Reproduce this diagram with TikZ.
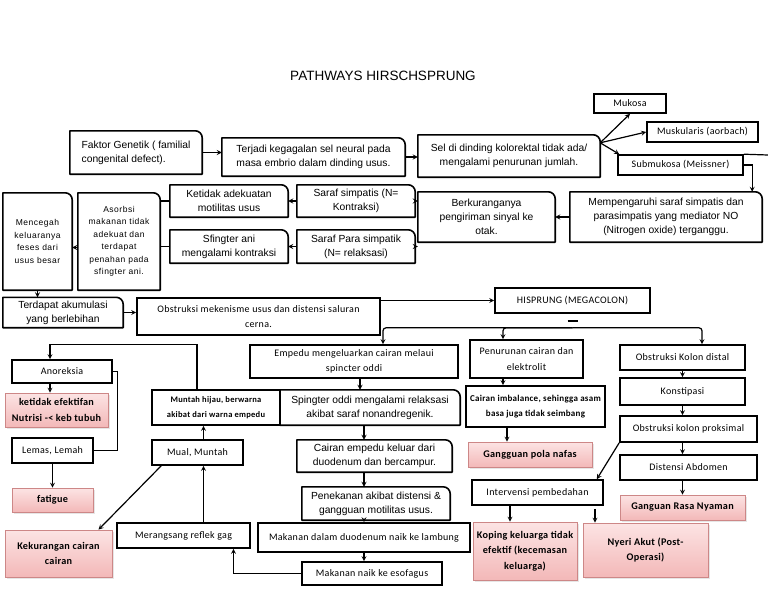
\documentclass[tikz,border=0pt]{standalone}
\usepackage{fontspec}
\setmainfont{Liberation Sans}
\newfontfamily\calfont[LetterSpace=3]{Carlito}
\newfontfamily\spfont[LetterSpace=6]{Liberation Sans}
\usetikzlibrary{shadows}
\definecolor{pinktop}{RGB}{252,228,228}
\definecolor{pinkbot}{RGB}{243,184,184}
\definecolor{pinkline}{RGB}{205,135,135}
\tikzset{
  boxwh/.style 2 args={minimum width=#1pt, minimum height=#2pt},
  rbox/.style={inner sep=0pt, align=center, font=\fontsize{10.3}{14}\selectfont},
  rline/.style={line width=1.6pt, line join=round},
  sbox/.style={draw, line width=1.6pt, inner sep=0pt, align=center, font=\calfont\fontsize{10}{15.5}\selectfont},
  pbox/.style={draw=pinkline, line width=0.7pt, top color=pinktop, bottom color=pinkbot,
    drop shadow={opacity=0.2, shadow xshift=1.5pt, shadow yshift=-1.5pt},
    inner sep=0pt, align=center, font=\calfont\bfseries\fontsize{10.2}{15.5}\selectfont},
  arr/.style={-stealth, line width=1.2pt},
  link/.style={line width=1.2pt},
}
\begin{document}
\begin{tikzpicture}[x=1pt,y=1pt]
\useasboundingbox (0,0) rectangle (768,-594);
\node[font=\fontsize{13.5}{16}\selectfont] (title) at (383,-76) {PATHWAYS HIRSCHSPRUNG};

% top row
\node[rbox, boxwh={132}{43}, align=left] (faktor) at (136,-152.5) {Faktor Genetik ( familial\\congenital defect).};
\node[rbox, boxwh={183}{38}] (terjadi) at (313.5,-157) {Terjadi kegagalan sel neural pada\\masa embrio dalam dinding usus.};
\node[rbox, boxwh={182}{42}] (seldi) at (509,-156) {Sel di dinding kolorektal tidak ada/\\mengalami penurunan jumlah.};
\node[sbox, boxwh={72}{19}] (mukosa) at (630,-103.5) {Mukosa};
\node[sbox, boxwh={111}{20}] (muskularis) at (702.5,-132) {Muskularis (aorbach)};
\node[sbox, boxwh={125}{20}] (submukosa) at (680.5,-165) {Submukosa (Meissner)};

% second row
\node[rbox, boxwh={192}{50}] (mempengaruhi) at (666,-217) {Mempengaruhi saraf simpatis dan\\parasimpatis yang mediator NO\\(Nitrogen oxide) terganggu.};
\node[rbox, boxwh={137}{50}] (berkurang) at (486.5,-217) {Berkuranganya\\pengiriman sinyal ke\\otak.};
\node[rbox, boxwh={118}{32}] (simpatis) at (356,-201) {Saraf simpatis (N=\\Kontraksi)};
\node[rbox, boxwh={118}{33}] (parasimpatis) at (356,-246.5) {Saraf Para simpatik\\(N= relaksasi)};
\node[rbox, boxwh={118}{32}] (ketidak) at (229,-201) {Ketidak adekuatan\\motilitas usus};
\node[rbox, boxwh={118}{33}] (sfingter) at (229,-246.5) {Sfingter ani\\mengalami kontraksi};
\node[rbox, boxwh={82}{97}, font=\spfont\fontsize{8.5}{12.5}\selectfont] (asorbsi) at (119,-241.5) {Asorbsi\\makanan tidak\\adekuat dan\\terdapat\\penahan pada\\sfingter ani.};
\node[rbox, boxwh={69}{97}, font=\spfont\fontsize{8.5}{12.5}\selectfont] (mencegah) at (37.5,-241.5) {Mencegah\\keluaranya\\feses dari\\usus besar};

% third row
\node[rbox, boxwh={120}{30}] (terdapat) at (63,-312.5) {Terdapat akumulasi\\yang berlebihan};
\node[sbox, boxwh={243}{37}] (obsmek) at (258.5,-316.5) {Obstruksi mekenisme usus dan distensi saluran\\cerna.};
\node[sbox, boxwh={155}{25}] (hisprung) at (572.5,-300.5) {HISPRUNG (MEGACOLON)};

% right columns
\node[sbox, boxwh={208}{33}] (empedu) at (354,-361.5) {Empedu mengeluarkan cairan melaui\\spincter oddi};
\node[sbox, boxwh={113}{38}] (penurunan) at (526.5,-359) {Penurunan cairan dan\\elektrolit};
\node[sbox, boxwh={125}{25}] (kolondistal) at (682.5,-357.5) {Obstruksi Kolon distal};
\node[sbox, boxwh={125}{27}] (konstipasi) at (682.5,-391.5) {Konstipasi};
\node[sbox, boxwh={139}{41}, font=\calfont\bfseries\fontsize{9}{15}\selectfont] (cairanimb) at (535.5,-406.5) {Cairan imbalance, sehingga asam\\basa juga tidak seimbang};
\node[pbox, boxwh={124}{25}] (polanafas) at (530,-454.5) {Gangguan pola nafas};
\node[sbox, boxwh={137}{26}] (proksimal) at (688.5,-429) {Obstruksi kolon proksimal};
\node[sbox, boxwh={137}{25}] (distensi) at (688.5,-467.5) {Distensi Abdomen};
\node[pbox, boxwh={125}{25}] (ganguan) at (682.5,-507.5) {Ganguan Rasa Nyaman};
\node[sbox, boxwh={131}{25}] (intervensi) at (537.5,-492.5) {Intervensi pembedahan};
\node[pbox, boxwh={104}{58}] (koping) at (525,-551) {Koping keluarga tidak\\efektif (kecemasan\\keluarga)};
\node[pbox, boxwh={125}{54}] (nyeri) at (645.5,-550) {Nyeri Akut (Post-\\Operasi)};

% left columns
\node[sbox, boxwh={100}{23}] (anoreksia) at (62,-371.5) {Anoreksia};
\node[pbox, boxwh={103}{34}] (nutrisi) at (56.5,-410) {ketidak efektifan\\Nutrisi -< keb tubuh};
\node[sbox, boxwh={81}{25}] (lemas) at (52.5,-450.5) {Lemas, Lemah};
\node[pbox, boxwh={81}{24}] (fatigue) at (52.5,-500) {fatigue};
\node[pbox, boxwh={107}{47}] (kekurangan) at (58.5,-553.5) {Kekurangan cairan\\cairan};
\node[sbox, boxwh={128}{35}, font=\calfont\bfseries\fontsize{8.5}{15}\selectfont] (muntahhijau) at (216,-407.5) {Muntah hijau, berwarna\\akibat dari warna empedu};
\node[rbox, boxwh={180}{35}] (spingter) at (370,-407.5) {Spingter oddi mengalami relaksasi\\akibat saraf nonandregenik.};
\node[sbox, boxwh={91}{25}] (mual) at (197.5,-452.5) {Mual, Muntah};
\node[sbox, boxwh={133}{25}] (merangsang) at (183.5,-535.5) {Merangsang reflek gag};
\node[rbox, boxwh={155}{32}] (cairanempedu) at (374.5,-456) {Cairan empedu keluar dari\\duodenum dan bercampur.};
\node[rbox, boxwh={148}{33}] (penekanan) at (376,-503.5) {Penekanan akibat distensi \&\\gangguan motilitas usus.};
\node[sbox, boxwh={212}{29}] (makduo) at (364,-537.5) {Makanan dalam duodenum naik ke lambung};
\node[sbox, boxwh={140}{23}] (makeso) at (372,-573.5) {Makanan naik ke esofagus};

% outlines with one rounded corner
\foreach \n in {faktor,terjadi,seldi,mempengaruhi,berkurang,simpatis,parasimpatis,ketidak,sfingter,asorbsi,mencegah,terdapat,spingter,cairanempedu,penekanan}
  \draw[rline] (\n.south west) -- (\n.north west) -- ([xshift=-7pt]\n.north east) arc[start angle=90,end angle=0,radius=7pt] -- (\n.south east) -- cycle;

% connectors
\coordinate (edge) at (768,-155);
\coordinate (fork) at ([yshift=-14]hisprung.south);
\draw[arr] (faktor.east) -- (faktor.east -| terjadi.west);
\draw[arr] (terjadi.east) -- (terjadi.east -| seldi.west);
\draw[arr] ([yshift=-8]seldi.north east) -- (mukosa.south);
\draw[arr] ([yshift=-8]seldi.north east) -- (muskularis.west);
\draw[arr] ([yshift=-8]seldi.north east) -- ([xshift=2]submukosa.north west);
\draw[link] (submukosa.north east) -- (edge);
\draw[arr] (submukosa.east) -| ([xshift=-10]mempengaruhi.north east);
\draw[arr] (mempengaruhi.west) -- (berkurang.east);
\draw[arr] (simpatis.east) -- (simpatis.east -| berkurang.west);
\draw[arr] (parasimpatis.east) -- (parasimpatis.east -| berkurang.west);
\draw[arr] (simpatis.west) -- (ketidak.east);
\draw[arr] (parasimpatis.west) -- (sfingter.east);
\draw[link] (ketidak.west) -- (ketidak.west -| asorbsi.east);
\draw[link] (sfingter.west) -- (sfingter.west -| asorbsi.east);
\draw[arr] ([yshift=-6]asorbsi.west) -- ([yshift=-6]mencegah.east);
\draw[arr] (mencegah.south) -- (mencegah.south |- terdapat.north);
\draw[arr] (terdapat.east) -- (terdapat.east -| obsmek.west);
\draw[arr] (hisprung.west -| obsmek.east) -- (hisprung.west);
\draw[line width=1.6pt] ([xshift=-5,yshift=-7]hisprung.south) -- ([xshift=5,yshift=-7]hisprung.south);
\draw[arr, rounded corners=3] (fork) -| ([xshift=29]empedu.north);
\draw[arr, rounded corners=3] (fork) -| ([xshift=-23.5]penurunan.north);
\draw[arr, rounded corners=3] (fork) -| ([xshift=19.5]kolondistal.north);
% empedu column
\draw[arr] ([xshift=6]empedu.south) -- ([xshift=6]empedu.south |- spingter.north);
\draw[arr] (spingter.south -| makduo) -- (cairanempedu.north -| makduo);
\draw[arr] (cairanempedu.south -| makduo) -- (penekanan.north -| makduo);
\draw[arr] (penekanan.south -| makduo) -- (makduo.north);
\draw[arr] (makduo.south) -- (makduo.south |- makeso.north);
\draw[arr] (makeso.west) -| ([xshift=50]merangsang.south);
\draw[arr] ([xshift=20]merangsang.north) -- ([xshift=20]merangsang.north |- mual.south);
\draw[arr] ([xshift=6]mual.north) -- ([xshift=6]mual.north |- muntahhijau.south);
\draw[arr] ([xshift=10]mual.south west) -- ([xshift=40]kekurangan.north);
\draw[arr] ([xshift=-19]muntahhijau.north) -- ++(0,45) -| ([xshift=-12]anoreksia.north);
\draw[arr] ([xshift=-12]anoreksia.south) -- ([xshift=-12]anoreksia.south |- nutrisi.north);
\draw[link] (anoreksia.east) -- ++(5,0) |- (lemas.east);
\draw[arr] (lemas.south) -- (fatigue.north);
% cairan column
\draw[arr] ([xshift=-23.5]penurunan.south) -- ([xshift=-23.5]penurunan.south |- cairanimb.north);
\draw[arr] ([xshift=-23]polanafas.north |- cairanimb.south) -- ([xshift=-23]polanafas.north);
% kolon column
\draw[arr] (kolondistal.south) -- (konstipasi.north);
\draw[arr] (konstipasi.south) -- (konstipasi.south |- proksimal.north);
\draw[arr] (proksimal.south -| konstipasi) -- (distensi.north -| konstipasi);
\draw[arr] (distensi.south -| ganguan) -- (ganguan.north);
\draw[arr] (proksimal.south west) -- ([xshift=-7]intervensi.north east);
\draw[arr] ([xshift=-27.5]intervensi.south) -- ([xshift=-27.5]intervensi.south |- koping.north);
\draw[arr] ([xshift=57.5,yshift=-3]intervensi.south) -- ([xshift=57.5]intervensi.south |- nyeri.north);
\end{tikzpicture}
\end{document}
